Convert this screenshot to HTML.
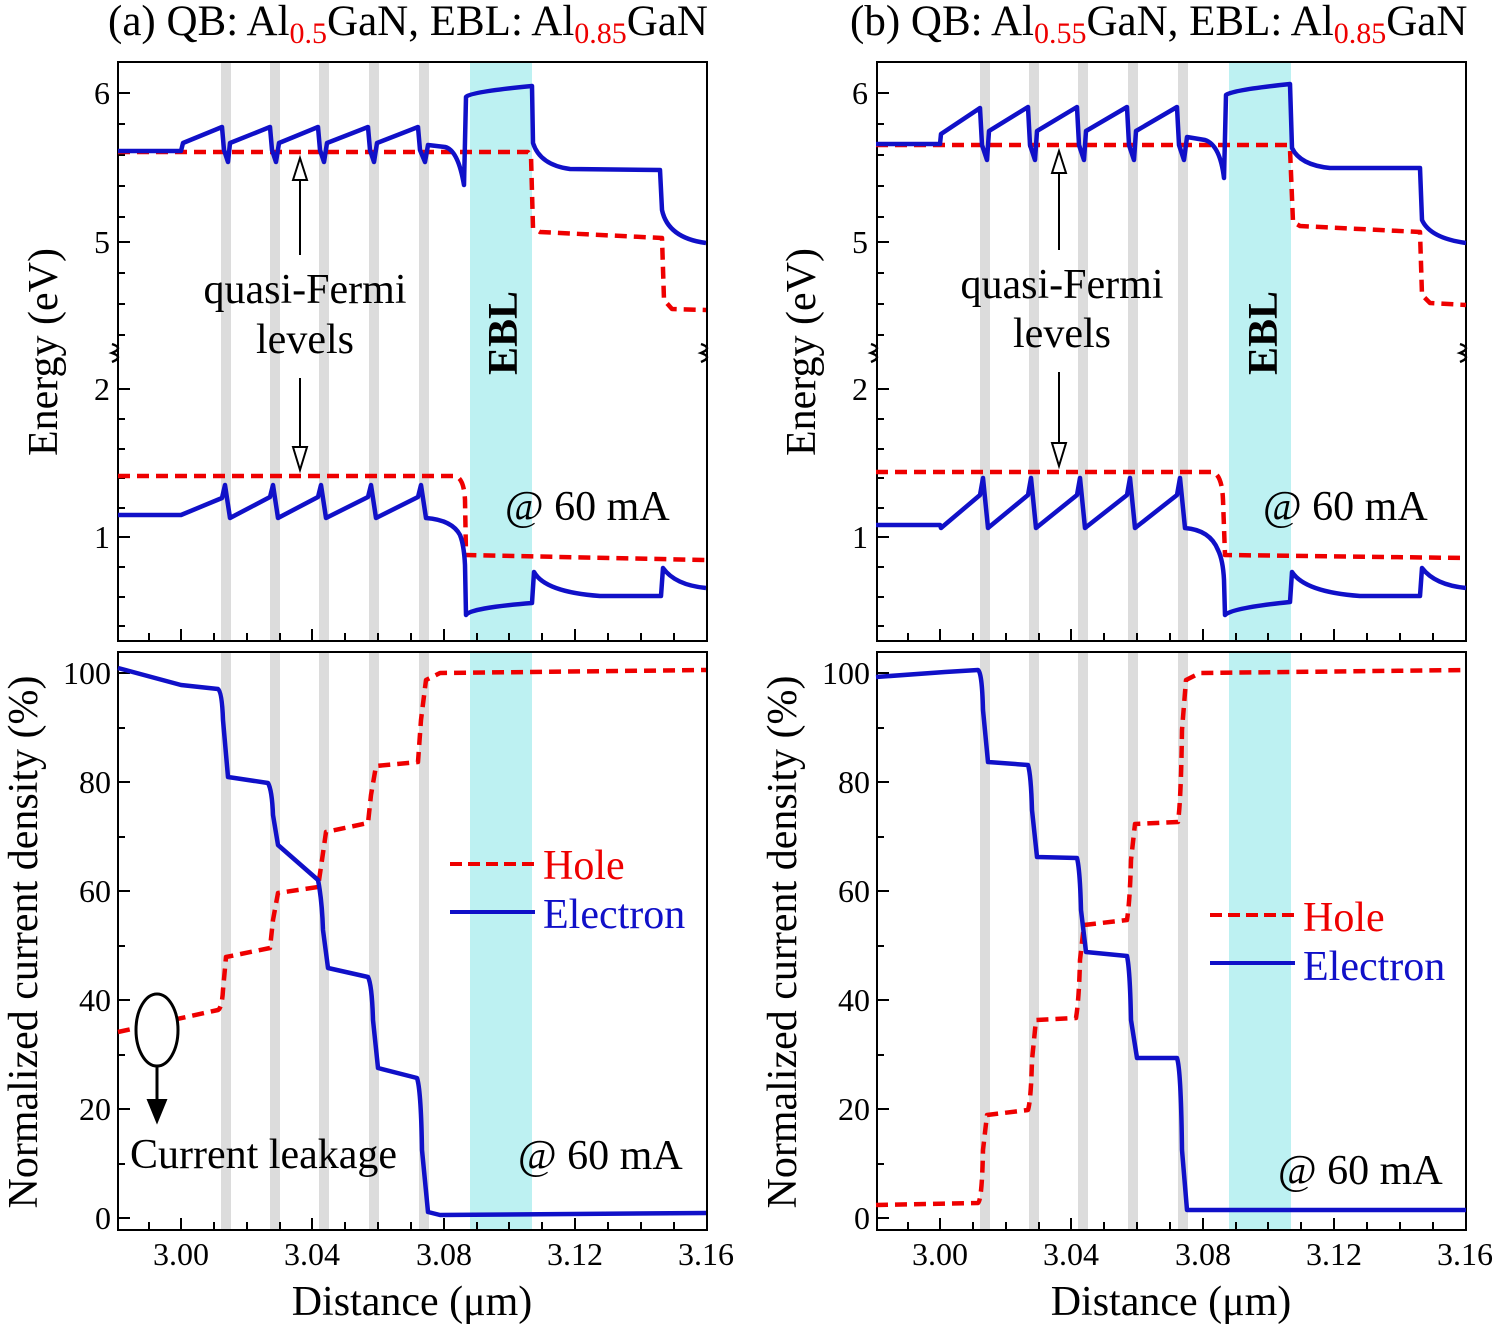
<!DOCTYPE html><html><head><style>body{margin:0;background:#fff}svg{display:block}text{font-family:"Liberation Serif",serif;fill:#000}</style></head><body>
<svg width="1504" height="1332" viewBox="0 0 1504 1332" xmlns="http://www.w3.org/2000/svg">
<defs>
<g id="bars">
<rect x="221" y="62" width="10" height="579" fill="#dcdcdc"/><rect x="270" y="62" width="10" height="579" fill="#dcdcdc"/><rect x="319" y="62" width="10" height="579" fill="#dcdcdc"/><rect x="369" y="62" width="10" height="579" fill="#dcdcdc"/><rect x="419" y="62" width="10" height="579" fill="#dcdcdc"/>
<rect x="221" y="652" width="10" height="578" fill="#dcdcdc"/><rect x="270" y="652" width="10" height="578" fill="#dcdcdc"/><rect x="319" y="652" width="10" height="578" fill="#dcdcdc"/><rect x="369" y="652" width="10" height="578" fill="#dcdcdc"/><rect x="419" y="652" width="10" height="578" fill="#dcdcdc"/>
<rect x="470" y="62" width="62" height="579" fill="#bdf1f2"/><rect x="470" y="652" width="62" height="578" fill="#bdf1f2"/>
</g>
<g id="axes" fill="none" stroke="#000" stroke-width="2">
<rect x="118" y="62" width="589" height="579"/><rect x="118" y="652" width="589" height="578"/>
<path d="M149,641v-8M181,641v-12M214,641v-8M247,641v-8M280,641v-8M312,641v-12M345,641v-8M378,641v-8M411,641v-8M444,641v-12M477,641v-8M509,641v-8M542,641v-8M575,641v-12M608,641v-8M641,641v-8M674,641v-8"/>
<path d="M149,1230v-8M181,1230v-12M214,1230v-8M247,1230v-8M280,1230v-8M312,1230v-12M345,1230v-8M378,1230v-8M411,1230v-8M444,1230v-12M477,1230v-8M509,1230v-8M542,1230v-8M575,1230v-12M608,1230v-8M641,1230v-8M674,1230v-8"/>
<path d="M118,93h12M118,124h7M118,155h7M118,186h7M118,217h7M118,242h12M118,273h7M118,304h7M118,335h7M118,389h12M118,419h7M118,449h7M118,478h7M118,508h7M118,537h12M118,567h7M118,597h7M118,626h7"/>
<path d="M118,673h12M118,728h7M118,782h12M118,837h7M118,891h12M118,946h7M118,1000h12M118,1055h7M118,1109h12M118,1164h7M118,1218h12"/>
<path d="M112,344q12,4 0,9q12,4 0,9M701,344q12,4 0,9q12,4 0,9" stroke-width="2.5"/>
</g>
</defs>

<use href="#bars"/><use href="#axes"/>
<g fill="none" stroke-width="4.5" stroke-linejoin="round">
<path stroke="#e00" stroke-dasharray="12,7" d="M118,152H528L531,156L533,228L540,232L662,238L664,300L672,309L706,310"/>
<path stroke="#e00" stroke-dasharray="12,7" d="M118,476H455Q464,478 465,500L466,555L706,560"/>
<path stroke="#1010c8" d="M118,151H181L183,143L222,127L224,150L228,162L230,143L270,127L272,150L276,162L279,143L318,127L320,150L324,162L327,143L368,127L370,150L374,162L377,143L418,127L420,150L425,162L428,145L445,147Q458,150 464,185L466,97Q470,92 532,86L533,143Q540,165 570,169L660,170L662,210Q668,238 706,243"/>
<path stroke="#1010c8" d="M118,515H181L222,498L225,485L230,518L270,497L273,485L278,518L318,497L321,485L326,518L368,497L371,485L376,518L418,497L421,485L426,518Q452,520 460,535Q464,545 465,565L466,615Q470,608 532,603L534,572Q545,592 600,596L661,596L663,568Q675,585 706,588"/>
<path stroke="#e00" stroke-dasharray="12,7" d="M118,1032L218,1010Q222,1008 223,990L226,957L270,948L273,920L278,893L318,887L322,860L326,832L368,823L371,795L376,766L418,762L421,720L426,680L440,673L706,670"/>
<path stroke="#1010c8" d="M118,668L181,685L218,689Q222,692 223,720L228,777L268,783Q272,790 273,815L278,845L318,880Q322,900 323,930L328,968L368,977Q372,985 373,1020L378,1068L417,1078Q421,1090 422,1150L428,1212L440,1215L706,1213"/>
</g>

<g transform="translate(759,0)"><use href="#bars"/><use href="#axes"/></g>
<g fill="none" stroke-width="4.5" stroke-linejoin="round">
<path stroke="#e00" stroke-dasharray="12,7" d="M876,145H1287L1290,149L1293,222L1300,226L1420,232L1422,295L1430,303L1466,305"/>
<path stroke="#e00" stroke-dasharray="12,7" d="M876,472H1212Q1222,474 1223,500L1225,555L1466,558"/>
<path stroke="#1010c8" d="M876,144H940L941,134L980,108L982,145L987,160L989,131L1028,107L1030,145L1035,160L1037,131L1077,107L1079,145L1084,160L1086,131L1127,107L1129,145L1134,160L1136,131L1177,107L1179,145L1184,160L1187,137L1205,140Q1220,145 1224,178L1226,95Q1232,90 1290,84L1292,148Q1300,165 1330,168L1420,168L1422,220Q1430,238 1466,243"/>
<path stroke="#1010c8" d="M876,525H940L941,528L980,495L983,478L988,528L1028,495L1031,478L1036,528L1077,495L1080,478L1085,528L1127,495L1130,478L1135,528L1177,495L1180,478L1185,528Q1210,530 1218,550Q1223,560 1224,580L1225,615Q1232,608 1290,602L1292,572Q1305,592 1360,596L1420,596L1422,568Q1435,585 1466,588"/>
<path stroke="#e00" stroke-dasharray="12,7" d="M876,1205L978,1203Q982,1200 983,1150L987,1115L1028,1110Q1031,1100 1032,1060L1036,1020L1076,1018Q1079,1000 1080,960L1084,925L1127,920Q1130,900 1131,860L1135,824L1178,822Q1181,800 1182,730L1186,680L1200,673L1466,670"/>
<path stroke="#1010c8" d="M876,677L945,672L978,670Q982,672 983,710L988,762L1028,765Q1031,775 1032,810L1037,857L1077,858Q1080,870 1081,910L1086,952L1127,956Q1130,970 1131,1020L1137,1058L1177,1058Q1181,1070 1182,1150L1187,1210L1466,1210"/>
</g>

<g stroke="#000" stroke-width="2" fill="#fff">
<path d="M300,255V165"/><path d="M293,180L300,158L307,180Z"/>
<path d="M300,378V462"/><path d="M293,447L300,470L307,447Z"/>
<path d="M1059,250V158"/><path d="M1052,173L1059,151L1066,173Z"/>
<path d="M1059,372V458"/><path d="M1052,443L1059,466L1066,443Z"/>
<ellipse cx="157" cy="1030" rx="21" ry="36" stroke-width="3"/><path d="M157,1066V1110" stroke-width="3"/><path d="M148,1100L157,1122L166,1100Z" fill="#000"/>
</g>

<g stroke-width="4" fill="none">
<path stroke="#e00" stroke-dasharray="12,6" d="M450,864H535"/><path stroke="#1010c8" d="M450,912H535"/>
<path stroke="#e00" stroke-dasharray="12,6" d="M1210,915H1295"/><path stroke="#1010c8" d="M1210,963H1295"/>
</g>
<g font-size="42">
<text x="543" y="879" style="fill:#e00">Hole</text><text x="543" y="928" style="fill:#1010c8">Electron</text>
<text x="1303" y="931" style="fill:#e00">Hole</text><text x="1303" y="980" style="fill:#1010c8">Electron</text>
<text x="305" y="303" text-anchor="middle">quasi-Fermi</text><text x="305" y="353" text-anchor="middle">levels</text>
<text x="1062" y="298" text-anchor="middle">quasi-Fermi</text><text x="1062" y="347" text-anchor="middle">levels</text>
<text x="505" y="520">@ 60 mA</text><text x="1263" y="520">@ 60 mA</text>
<text x="518" y="1169">@ 60 mA</text><text x="1278" y="1184">@ 60 mA</text>
<text x="130" y="1168">Current leakage</text>
<text transform="translate(517,375) rotate(-90)" font-weight="bold">EBL</text>
<text transform="translate(1277,375) rotate(-90)" font-weight="bold">EBL</text>
<text transform="translate(57,352) rotate(-90)" text-anchor="middle">Energy (eV)</text>
<text transform="translate(815,352) rotate(-90)" text-anchor="middle">Energy (eV)</text>
<text transform="translate(37,942) rotate(-90)" text-anchor="middle">Normalized current density (%)</text>
<text transform="translate(796,942) rotate(-90)" text-anchor="middle">Normalized current density (%)</text>
<text x="412" y="1315" text-anchor="middle">Distance (μm)</text><text x="1171" y="1315" text-anchor="middle">Distance (μm)</text>
</g>
<g font-size="43">
<text x="108" y="35">(a) QB: Al<tspan font-size="30" dy="8" style="fill:#e00">0.5</tspan><tspan dy="-8">GaN, EBL: Al</tspan><tspan font-size="30" dy="8" style="fill:#e00">0.85</tspan><tspan dy="-8">GaN</tspan></text>
<text x="850" y="35">(b) QB: Al<tspan font-size="30" dy="8" style="fill:#e00">0.55</tspan><tspan dy="-8">GaN, EBL: Al</tspan><tspan font-size="30" dy="8" style="fill:#e00">0.85</tspan><tspan dy="-8">GaN</tspan></text>
</g>
<g font-size="32" text-anchor="end">
<text x="110" y="104">6</text><text x="110" y="253">5</text><text x="110" y="400">2</text><text x="110" y="548">1</text>
<text x="868" y="104">6</text><text x="868" y="253">5</text><text x="868" y="400">2</text><text x="868" y="548">1</text>
<text x="111" y="684">100</text><text x="111" y="793">80</text><text x="111" y="902">60</text><text x="111" y="1011">40</text><text x="111" y="1120">20</text><text x="111" y="1229">0</text>
<text x="870" y="684">100</text><text x="870" y="793">80</text><text x="870" y="902">60</text><text x="870" y="1011">40</text><text x="870" y="1120">20</text><text x="870" y="1229">0</text>
</g>
<g font-size="32" text-anchor="middle">
<text x="181" y="1265">3.00</text><text x="312" y="1265">3.04</text><text x="444" y="1265">3.08</text><text x="575" y="1265">3.12</text><text x="706" y="1265">3.16</text>
<text x="940" y="1265">3.00</text><text x="1071" y="1265">3.04</text><text x="1203" y="1265">3.08</text><text x="1334" y="1265">3.12</text><text x="1465" y="1265">3.16</text>
</g>
</svg>
</body></html>
